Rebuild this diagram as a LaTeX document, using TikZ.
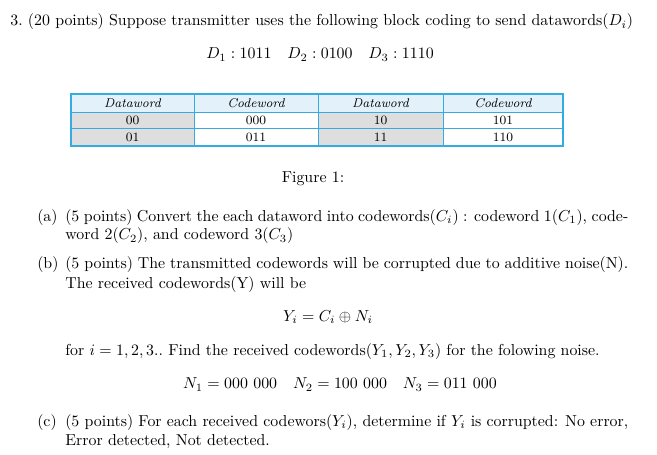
\documentclass[tikz,border=0pt]{standalone}
\definecolor{tblue}{HTML}{35ACE0}
\definecolor{thead}{HTML}{E2F1FA}
\definecolor{tgrey}{HTML}{DEDEDE}
\begin{document}
\begin{tikzpicture}[x=0.63pt,y=-0.63pt,
  txt/.style={anchor=base west,inner sep=0pt},
  ctr/.style={anchor=base,inner sep=0pt},
  cell/.style={anchor=center,inner sep=0pt,font=\footnotesize}]
\useasboundingbox (0,0) rectangle (657,455);
\newcommand{\jline}[1]{\hbox to 354.7pt{#1}}
\node[txt] (l1) at (10,26) {3.\ (20 points) Suppose transmitter uses the following block coding to send datawords($D_i$)};
\node[ctr] (dd) at (320,59) {$D_1: 1011\quad D_2: 0100\quad D_3: 1110$};
% table
\fill[thead] (71,94) rectangle (563,112);
\fill[tgrey] (71,112) rectangle (194,146);
\fill[tgrey] (318,112) rectangle (443,146);
\draw[tblue,line width=0.6pt] (71,112) -- (563,112) (71,128) -- (563,128)
  (194,94) -- (194,146) (318,94) -- (318,146) (443,94) -- (443,146);
\draw[tblue,line width=1.2pt] (71,94) rectangle (563,146);
\node[cell] (h1) at (132.5,103) {\itshape Dataword};
\node[cell] (h2) at (256,103) {\itshape Codeword};
\node[cell] (h3) at (380.5,103) {\itshape Dataword};
\node[cell] (h4) at (503,103) {\itshape Codeword};
\node[cell] (a1) at (132.5,120) {00};
\node[cell] (a2) at (256,120) {000};
\node[cell] (a3) at (380.5,120) {10};
\node[cell] (a4) at (503,120) {101};
\node[cell] (b1) at (132.5,137) {01};
\node[cell] (b2) at (256,137) {011};
\node[cell] (b3) at (380.5,137) {11};
\node[cell] (b4) at (503,137) {110};
\node[ctr] (fig) at (313,183) {Figure 1:};
\node[txt] (pa) at (37,221) {(a)};
\node[txt] (pa1) at (65,221) {\jline{(5 points) Convert the each dataword into codewords($C_i$) : codeword 1($C_1$), code-}};
\node[txt] (pa2) at (65,240) {word 2($C_2$), and codeword 3($C_3$)};
\node[txt] (pb) at (37,269) {(b)};
\node[txt] (pb1) at (65,269) {\jline{(5 points) The transmitted codewords will be corrupted due to additive noise(N).}};
\node[txt] (pb2) at (65,288) {The received codewords(Y) will be};
\node[ctr] (eq) at (328,321) {$Y_i = C_i \oplus N_i$};
\node[txt] (fr) at (65,355) {for $i=1,2,3..$ Find the received codewords($Y_1,Y_2,Y_3$) for the folowing noise.};
\node[ctr] (nn) at (340,389) {$N_1 = 000\ 000\quad N_2 = 100\ 000\quad N_3 = 011\ 000$};
\node[txt] (pc) at (37,426) {(c)};
\node[txt] (pc1) at (65,426) {\jline{(5 points) For each received codewors($Y_i$), determine if $Y_i$ is corrupted: No error,}};
\node[txt] (pc2) at (65,445) {Error detected, Not detected.};
\end{tikzpicture}
\end{document}
